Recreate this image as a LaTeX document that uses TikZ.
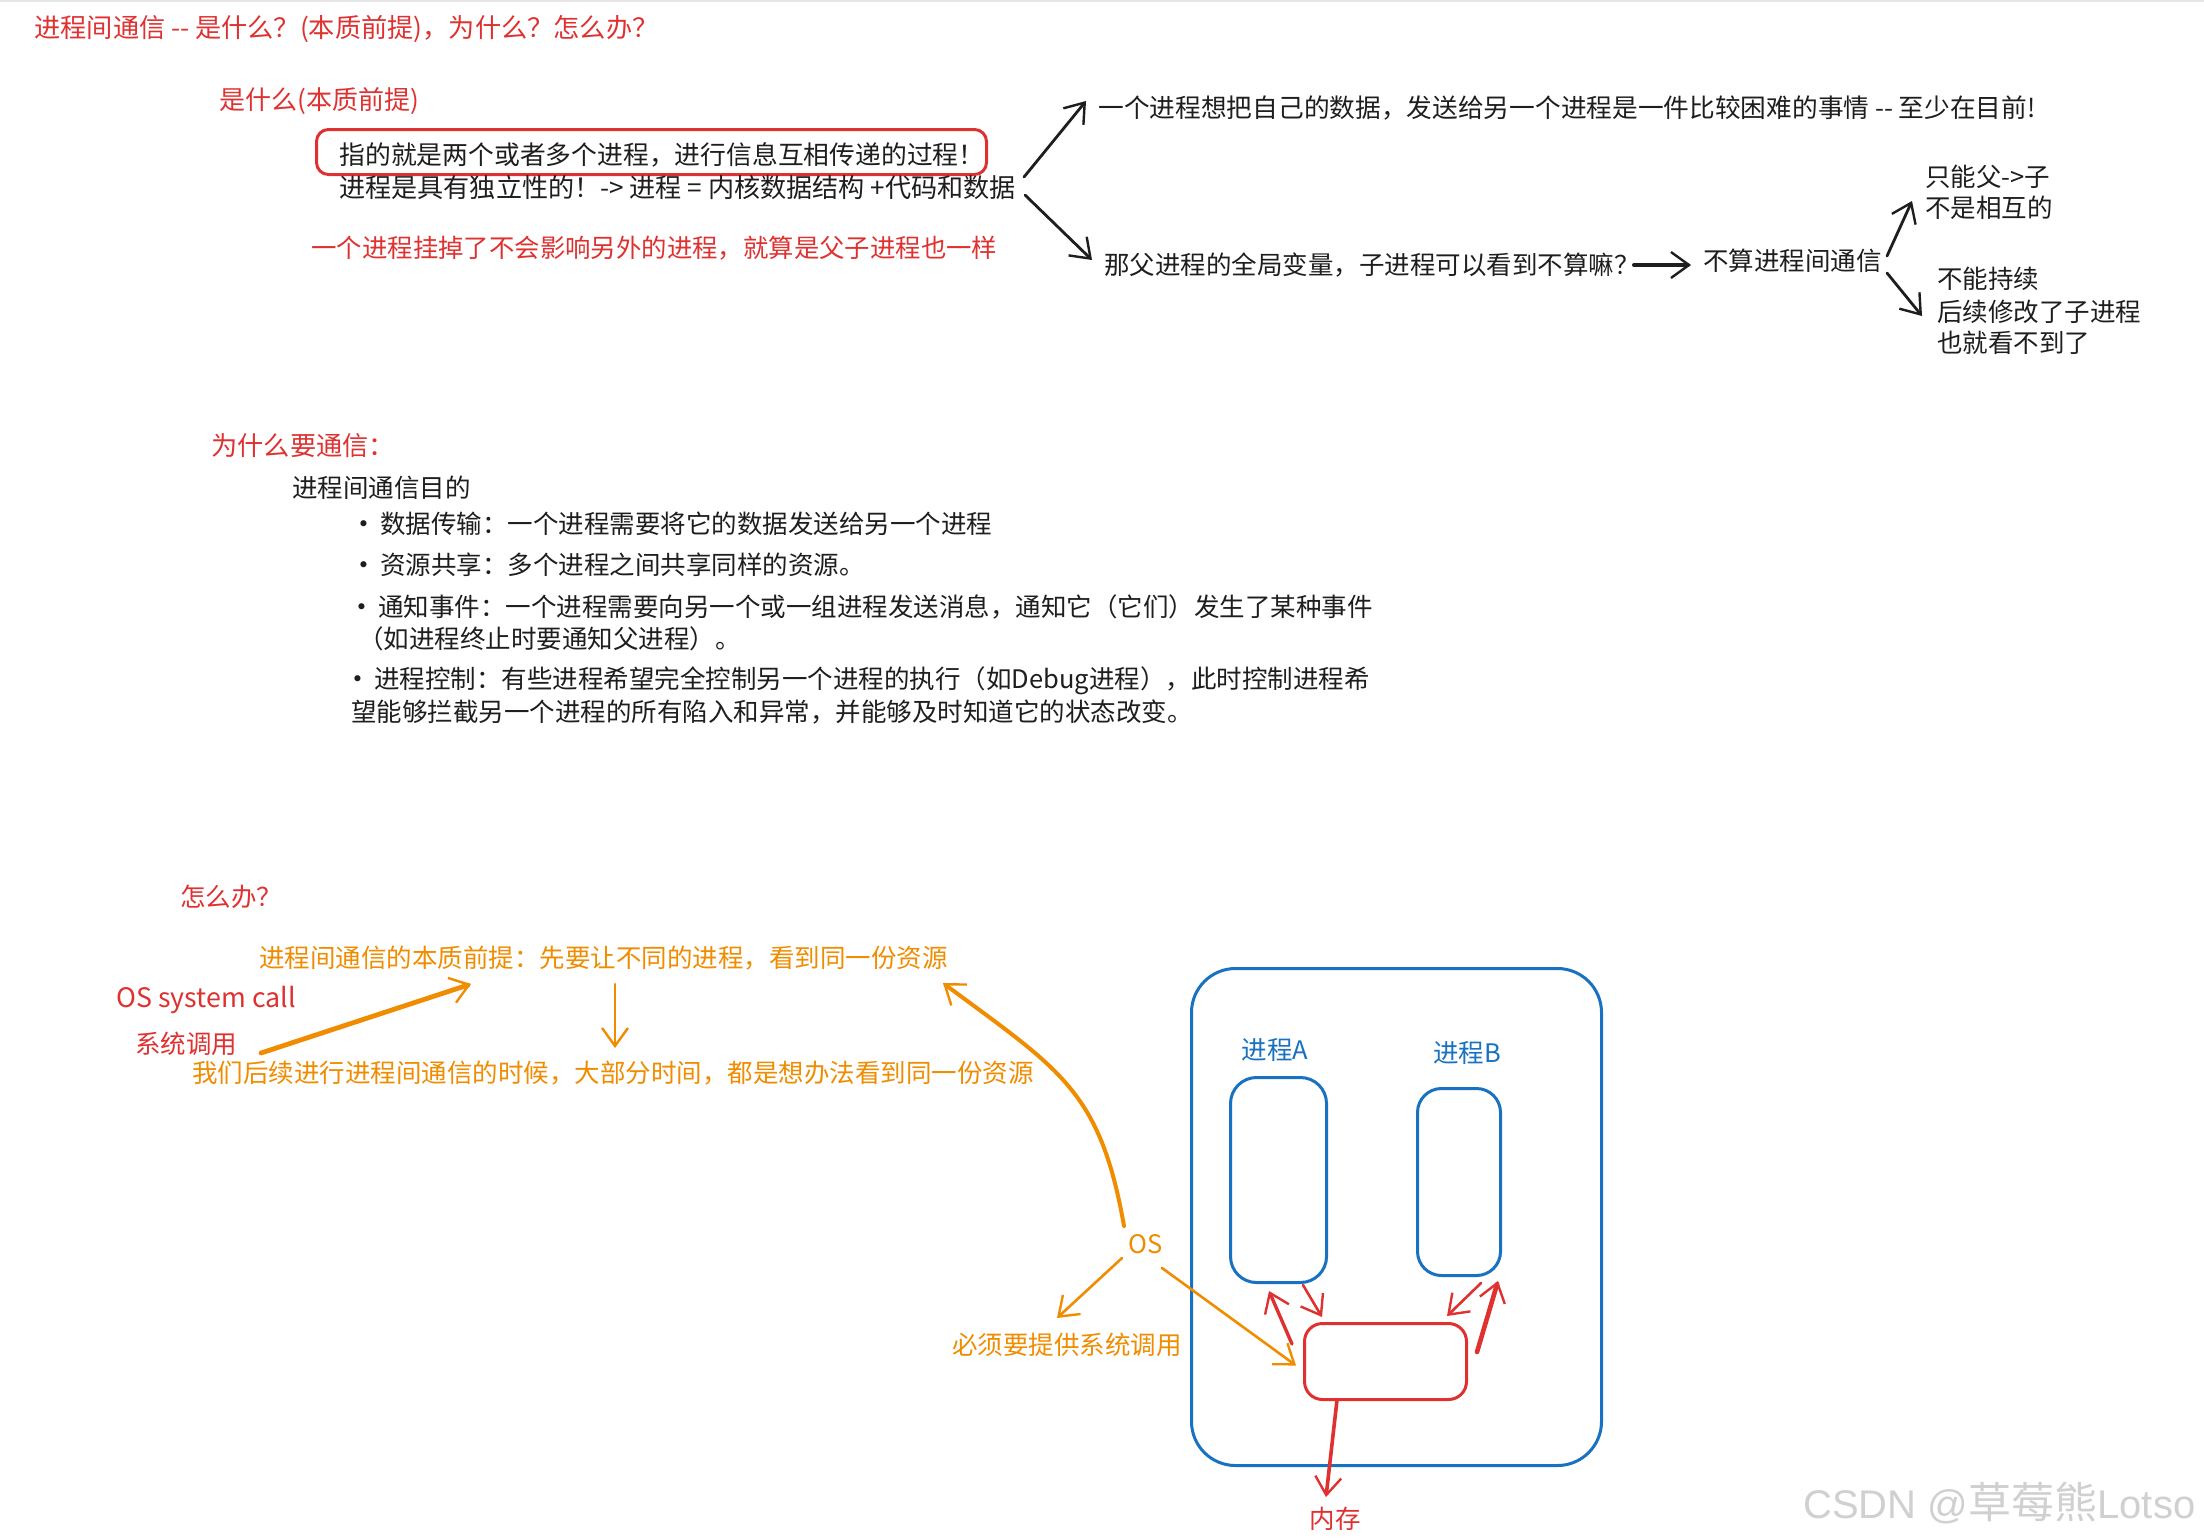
\documentclass[tikz,border=0pt]{standalone}
\usepackage{fontspec}
\setmainfont{Noto Sans CJK SC}
\newfontfamily\markfont{Liberation Sans}
\newfontfamily\bulfont{DejaVu Sans}
\usetikzlibrary{arrows.meta}
\definecolor{cred}{HTML}{E03131}
\definecolor{cblack}{HTML}{1E1E1E}
\definecolor{corange}{HTML}{F08C00}
\definecolor{cblue}{HTML}{1971C2}
\definecolor{cgray}{HTML}{D0D0D0}
\newcommand{\fsz}[1]{\fontsize{#1pt}{14pt}\selectfont}
\newcommand{\bul}{\makebox[11.5pt][l]{\smash{\raisebox{0.9pt}{\bulfont\fontsize{10.5pt}{12pt}\selectfont •}}}}
\tikzset{
  x=0.5pt,y=-0.5pt,
  txt/.style={inner sep=0pt,anchor=west,font=\fsz{12.75},text=cblack},
  redtxt/.style={txt,text=cred},
  orangetxt/.style={txt,text=corange},
  bluetxt/.style={inner sep=0pt,anchor=center,font=\fsz{12.75},text=cblue},
  boxbase/.style={draw,anchor=north west,inner sep=0pt,line width=1.5pt},
  bluebox/.style={boxbase,draw=cblue},
  redbox/.style={boxbase,draw=cred},
  arrowhd/.style={-{Straight Barb[length=9pt,width=13pt,line width=1.2pt]},line cap=round},
  blackarrow/.style={arrowhd,draw=cblack,line width=1.4pt},
  orangearrow/.style={arrowhd,draw=corange,line width=1.3pt},
  redarrow/.style={arrowhd,draw=cred,line width=1.5pt},
}
\begin{document}
\begin{tikzpicture}
\useasboundingbox (0,0) rectangle (2204,1538);
\fill[white] (0,0) rectangle (2204,1538);
\fill[black!10] (0,0) rectangle (2204,2);
% top section
\node[redtxt,font=\fsz{13.1}] (title) at (34,29) {进程间通信 -{}- 是什么？(本质前提)，为什么？怎么办？};
\node[redtxt,font=\fsz{13}] (whatis) at (219,101) {是什么(本质前提)};
\node[redbox,minimum width=335pt,minimum height=22.5pt,rounded corners=6pt] (keybox) at (315,128) {};
\node[txt,font=\fsz{12.9}] (line1) at (339,155) {指的就是两个或者多个进程，进行信息互相传递的过程！};
\node[txt,font=\fsz{13.05}] (line2) at (339,188) {进程是具有独立性的！-> 进程 = 内核数据结构 +代码和数据};
\node[redtxt,font=\fsz{12.7}] (line3) at (311,248) {一个进程挂掉了不会影响另外的进程，就算是父子进程也一样};
\node[txt,font=\fsz{12.85}] (topq) at (1098,108) {一个进程想把自己的数据，发送给另一个进程是一件比较困难的事情 -{}- 至少在目前!};
\node[txt] (fatherq) at (1104,265) {那父进程的全局变量，子进程可以看到不算嘛？};
\node[txt] (notipc) at (1703,261) {不算进程间通信};
\node[txt] (oneway1) at (1925,177) {只能父->子};
\node[txt] (oneway2) at (1925,208) {不是相互的};
\node[txt] (nocont1) at (1937,279) {不能持续};
\node[txt] (nocont2) at (1937,312) {后续修改了子进程};
\node[txt] (nocont3) at (1937,343) {也就看不到了};
\draw[blackarrow] ([shift={(685,-11)}]line2.west) -- ([shift={(-12,-7)}]topq.west);
\draw[blackarrow] ([shift={(686,7)}]line2.west) -- ([shift={(-12,-5)}]fatherq.west);
\draw[blackarrow,line width=2pt] ([shift={(530,0)}]fatherq.west) -- ([shift={(-12,4)}]notipc.west);
\draw[blackarrow] ([shift={(184,-5)}]notipc.west) -- ([shift={(-13,-7)}]oneway2.west);
\draw[blackarrow] ([shift={(184,12)}]notipc.west) -- ([shift={(-15,4)}]nocont2.west);
% middle section
\node[redtxt,font=\fsz{13.1}] (why) at (211,446) {为什么要通信：};
\node[txt] (purpose) at (292,488) {进程间通信目的};
\node[txt] (b1) at (357,524) {\bul 数据传输：一个进程需要将它的数据发送给另一个进程};
\node[txt] (b2) at (357,565) {\bul 资源共享：多个进程之间共享同样的资源。};
\node[txt] (b3) at (355,607) {\bul 通知事件：一个进程需要向另一个或一组进程发送消息，通知它（它们）发生了某种事件};
\node[txt] (b3b) at (358,639) {（如进程终止时要通知父进程）。};
\node[txt] (b4) at (351,681) {\bul 进程控制：有些进程希望完全控制另一个进程的执行（如Debug进程），此时控制进程希};
\node[txt] (b4b) at (351,712) {望能够拦截另一个进程的所有陷入和异常，并能够及时知道它的状态改变。};
% bottom section
\node[redtxt] (how) at (180,897) {怎么办？};
\node[orangetxt] (essence) at (259,958) {进程间通信的本质前提：先要让不同的进程，看到同一份资源};
\node[redtxt,font=\fsz{13.4}] (oscall) at (116,1000) {OS system call};
\node[redtxt] (syscall) at (135,1044) {系统调用};
\node[orangetxt] (later) at (192,1073) {我们后续进行进程间通信的时候，大部分时间，都是想办法看到同一份资源};
\node[orangetxt,anchor=center] (oslabel) at (1146,1244) {OS};
\node[orangetxt] (mustcall) at (952,1345) {必须要提供系统调用};
\node[bluebox,minimum width=205pt,minimum height=248.5pt,rounded corners=22pt] (bigbox) at (1190,967) {};
\node[bluetxt] (labA) at (1275,1050) {进程A};
\node[bluetxt] (labB) at (1467,1053) {进程B};
\node[bluebox,minimum width=48pt,minimum height=102.5pt,rounded corners=13pt] (procA) at (1229,1076) {};
\node[bluebox,minimum width=41.5pt,minimum height=93.5pt,rounded corners=12pt] (procB) at (1416,1087) {};
\node[redbox,minimum width=81pt,minimum height=38pt,rounded corners=9pt] (shared) at (1303,1322) {};
\node[redtxt,anchor=center] (mem) at (1335,1519) {内存};
\draw[orangearrow,line width=2.4pt] ([shift={(126,9)}]syscall.west) -- ([shift={(212,26)}]essence.west);
\draw[orangearrow,line width=1.1pt] ([shift={(356,26)}]essence.west) -- ([shift={(423,-25)}]later.west);
\draw[orangearrow,line width=2pt] ([shift={(-22,-18)}]oslabel.center) .. controls (1100,1090) and (1060,1070) .. ([shift={(684,25)}]essence.west);
\draw[orangearrow] ([shift={(-24,14)}]oslabel.center) -- ([shift={(105,-27)}]mustcall.west);
\draw[orangearrow] ([shift={(16,24)}]oslabel.center) -- ([shift={(-7,4)}]shared.west);
\draw[redarrow,line width=1.7pt] ([shift={(-11,22)}]shared.north west) -- ([shift={(40,7)}]procA.south west);
\draw[redarrow,line width=1.3pt] ([shift={(74,1)}]procA.south west) -- ([shift={(19,-5)}]shared.north west);
\draw[redarrow,line width=1.3pt] ([shift={(65,6)}]procB.south west) -- ([shift={(144,-6)}]shared.north west);
\draw[redarrow,line width=2.3pt] ([shift={(174,30)}]shared.north west) -- ([shift={(82,4)}]procB.south west);
\draw[redarrow,line width=1.8pt] ([shift={(34,78)}]shared.north west) -- ([shift={(-9,-22)}]mem.center);
% watermark
\node[inner sep=0pt,anchor=west,text=cgray,font=\fsz{21.5}] (mark) at (1803,1503) {{\markfont\fontsize{20pt}{22pt}\selectfont CSDN @}草莓熊{\markfont\fontsize{20pt}{22pt}\selectfont Lotso}};
\end{tikzpicture}
\end{document}
